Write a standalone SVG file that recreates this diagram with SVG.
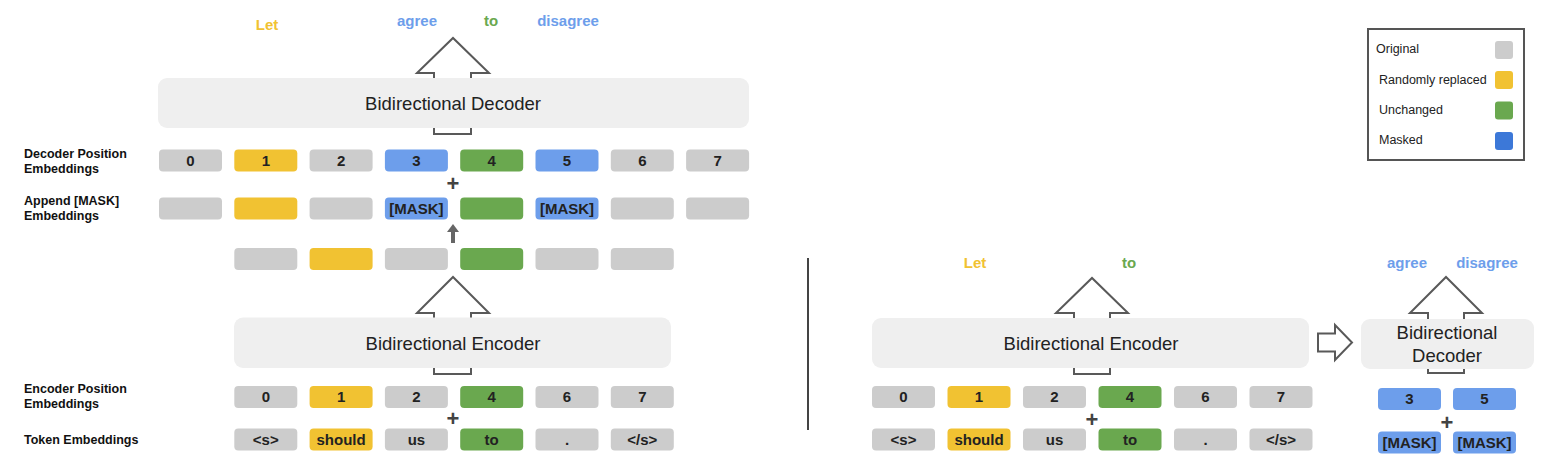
<svg xmlns="http://www.w3.org/2000/svg" width="1547" height="474" viewBox="0 0 1547 474">
<style>
  .bg { fill: #ffffff; }
  .blk { fill: #efefef; }
  .g { fill: #cccccc; }
  .y { fill: #f1c232; }
  .gr { fill: #6aa84f; }
  .b { fill: #6d9eeb; }
  .bx { font-family: "Liberation Sans", Arial, sans-serif; font-size: 15px; font-weight: bold; fill: #222222; text-anchor: middle; }
  .lbl { font-family: "Liberation Sans", Arial, sans-serif; font-size: 12.5px; font-weight: bold; fill: #111111; }
  .big { font-family: "Liberation Sans", Arial, sans-serif; font-size: 18.5px; fill: #222222; text-anchor: middle; }
  .out { font-family: "Liberation Sans", Arial, sans-serif; font-size: 15px; font-weight: bold; text-anchor: middle; }
  .leg { font-family: "Liberation Sans", Arial, sans-serif; font-size: 12.5px; fill: #222222; }
  .plus { font-family: "Liberation Sans", Arial, sans-serif; font-size: 22px; font-weight: bold; fill: #434343; text-anchor: middle; }
  .harrow { fill: #ffffff; stroke: #595959; stroke-width: 2; stroke-linejoin: miter; }
</style>
<rect class="bg" x="0" y="0" width="1547" height="474"/>

<!-- output labels -->
<g id="outputs-left">
  <text class="out" x="267" y="30" fill="#f1c232">Let</text>
  <text class="out" x="417" y="26" fill="#6d9eeb">agree</text>
  <text class="out" x="491" y="26" fill="#6aa84f">to</text>
  <text class="out" x="568" y="26" fill="#6d9eeb">disagree</text>
</g>
<g id="outputs-right">
  <text class="out" x="975" y="268" fill="#f1c232">Let</text>
  <text class="out" x="1129" y="268" fill="#6aa84f">to</text>
  <text class="out" x="1407" y="268" fill="#6d9eeb">agree</text>
  <text class="out" x="1487" y="268" fill="#6d9eeb">disagree</text>
</g>

<!-- connectors (hollow arrows drawn behind boxes) -->
<g id="connectors">
  <polygon class="harrow" points="434,134 434,73 417,73 453,38 489,73 471,73 471,134"/>
  <polygon class="harrow" points="434,374 434,313 417,313 453,277 489,313 471,313 471,374"/>
  <polygon class="harrow" points="1074,374 1074,313 1056,313 1092,278 1128,313 1110,313 1110,374"/>
  <polygon class="harrow" points="1428,373 1428,313 1410,313 1446,277 1482,313 1464,313 1464,373"/>
  <polygon class="harrow" points="1318,333.5 1335,333.5 1335,325 1352,342.5 1335,360 1335,351.5 1318,351.5"/>
  <polygon fill="#666666" points="453,224 459,232 455,232 455,243 451,243 451,232 447,232"/>
  <line x1="808" y1="258" x2="808" y2="430" stroke="#444444" stroke-width="2"/>
</g>

<!-- blocks -->
<g id="left-decoder">
  <rect class="blk" x="158" y="78" width="591" height="50" rx="9"/>
  <text class="big" x="453" y="109.5">Bidirectional Decoder</text>
</g>
<g id="left-encoder">
  <rect class="blk" x="234" y="317.5" width="437" height="50.5" rx="9"/>
  <text class="big" x="453" y="349.5">Bidirectional Encoder</text>
</g>
<g id="right-encoder">
  <rect class="blk" x="872" y="318" width="437" height="50" rx="9"/>
  <text class="big" x="1091" y="349.5">Bidirectional Encoder</text>
</g>
<g id="right-decoder">
  <rect class="blk" x="1361" y="319" width="173" height="50" rx="9"/>
  <text class="big" x="1447" y="339">Bidirectional</text>
  <text class="big" x="1447" y="362">Decoder</text>
</g>

<!-- row labels -->
<g id="row-labels">
  <text class="lbl" x="24" y="157.5">Decoder Position</text>
  <text class="lbl" x="24" y="172.5">Embeddings</text>
  <text class="lbl" x="24" y="205">Append [MASK]</text>
  <text class="lbl" x="24" y="220">Embeddings</text>
  <text class="lbl" x="24" y="392.5">Encoder Position</text>
  <text class="lbl" x="24" y="408">Embeddings</text>
  <text class="lbl" x="24" y="443.5">Token Embeddings</text>
</g>

<!-- decoder position embeddings -->
<g id="dec-pos">
  <rect class="g" x="159" y="149.5" width="63" height="22" rx="4"/><text class="bx" x="190.5" y="165.5">0</text>
  <rect class="y" x="234.3" y="149.5" width="63" height="22" rx="4"/><text class="bx" x="265.8" y="165.5">1</text>
  <rect class="g" x="309.6" y="149.5" width="63" height="22" rx="4"/><text class="bx" x="341.1" y="165.5">2</text>
  <rect class="b" x="384.9" y="149.5" width="63" height="22" rx="4"/><text class="bx" x="416.4" y="165.5">3</text>
  <rect class="gr" x="460.2" y="149.5" width="63" height="22" rx="4"/><text class="bx" x="491.7" y="165.5">4</text>
  <rect class="b" x="535.5" y="149.5" width="63" height="22" rx="4"/><text class="bx" x="567" y="165.5">5</text>
  <rect class="g" x="610.8" y="149.5" width="63" height="22" rx="4"/><text class="bx" x="642.3" y="165.5">6</text>
  <rect class="g" x="686.1" y="149.5" width="63" height="22" rx="4"/><text class="bx" x="717.6" y="165.5">7</text>
</g>
<text class="plus" x="453" y="190.5">+</text>

<!-- append mask embeddings -->
<g id="append-mask">
  <rect class="g" x="159" y="197.5" width="63" height="22" rx="4"/>
  <rect class="y" x="234.3" y="197.5" width="63" height="22" rx="4"/>
  <rect class="g" x="309.6" y="197.5" width="63" height="22" rx="4"/>
  <rect class="b" x="384.9" y="197.5" width="63" height="22" rx="4"/><text class="bx" x="416.4" y="213.5">[MASK]</text>
  <rect class="gr" x="460.2" y="197.5" width="63" height="22" rx="4"/>
  <rect class="b" x="535.5" y="197.5" width="63" height="22" rx="4"/><text class="bx" x="567" y="213.5">[MASK]</text>
  <rect class="g" x="610.8" y="197.5" width="63" height="22" rx="4"/>
  <rect class="g" x="686.1" y="197.5" width="63" height="22" rx="4"/>
</g>

<!-- encoder outputs -->
<g id="enc-out">
  <rect class="g" x="234.3" y="248" width="63" height="22" rx="4"/>
  <rect class="y" x="309.6" y="248" width="63" height="22" rx="4"/>
  <rect class="g" x="384.9" y="248" width="63" height="22" rx="4"/>
  <rect class="gr" x="460.2" y="248" width="63" height="22" rx="4"/>
  <rect class="g" x="535.5" y="248" width="63" height="22" rx="4"/>
  <rect class="g" x="610.8" y="248" width="63" height="22" rx="4"/>
</g>

<!-- left encoder position embeddings -->
<g id="enc-pos-left">
  <rect class="g" x="234.3" y="386" width="63" height="22" rx="4"/><text class="bx" x="265.8" y="402">0</text>
  <rect class="y" x="309.6" y="386" width="63" height="22" rx="4"/><text class="bx" x="341.1" y="402">1</text>
  <rect class="g" x="384.9" y="386" width="63" height="22" rx="4"/><text class="bx" x="416.4" y="402">2</text>
  <rect class="gr" x="460.2" y="386" width="63" height="22" rx="4"/><text class="bx" x="491.7" y="402">4</text>
  <rect class="g" x="535.5" y="386" width="63" height="22" rx="4"/><text class="bx" x="567" y="402">6</text>
  <rect class="g" x="610.8" y="386" width="63" height="22" rx="4"/><text class="bx" x="642.3" y="402">7</text>
</g>
<text class="plus" x="453" y="425.5">+</text>

<!-- left token embeddings -->
<g id="tok-left">
  <rect class="g" x="234.3" y="428.5" width="63" height="22" rx="4"/><text class="bx" x="265.8" y="444.5">&lt;s&gt;</text>
  <rect class="y" x="309.6" y="428.5" width="63" height="22" rx="4"/><text class="bx" x="341.1" y="444.5">should</text>
  <rect class="g" x="384.9" y="428.5" width="63" height="22" rx="4"/><text class="bx" x="416.4" y="444.5">us</text>
  <rect class="gr" x="460.2" y="428.5" width="63" height="22" rx="4"/><text class="bx" x="491.7" y="444.5">to</text>
  <rect class="g" x="535.5" y="428.5" width="63" height="22" rx="4"/><text class="bx" x="567" y="444.5">.</text>
  <rect class="g" x="610.8" y="428.5" width="63" height="22" rx="4"/><text class="bx" x="642.3" y="444.5">&lt;/s&gt;</text>
</g>

<!-- right encoder position embeddings -->
<g id="enc-pos-right">
  <rect class="g" x="872" y="386" width="63" height="22" rx="4"/><text class="bx" x="903.5" y="402">0</text>
  <rect class="y" x="947.5" y="386" width="63" height="22" rx="4"/><text class="bx" x="979" y="402">1</text>
  <rect class="g" x="1023" y="386" width="63" height="22" rx="4"/><text class="bx" x="1054.5" y="402">2</text>
  <rect class="gr" x="1098.5" y="386" width="63" height="22" rx="4"/><text class="bx" x="1130" y="402">4</text>
  <rect class="g" x="1174" y="386" width="63" height="22" rx="4"/><text class="bx" x="1205.5" y="402">6</text>
  <rect class="g" x="1249.5" y="386" width="63" height="22" rx="4"/><text class="bx" x="1281" y="402">7</text>
</g>
<text class="plus" x="1092" y="426.5">+</text>

<!-- right token embeddings -->
<g id="tok-right">
  <rect class="g" x="872" y="428.5" width="63" height="22" rx="4"/><text class="bx" x="903.5" y="444.5">&lt;s&gt;</text>
  <rect class="y" x="947.5" y="428.5" width="63" height="22" rx="4"/><text class="bx" x="979" y="444.5">should</text>
  <rect class="g" x="1023" y="428.5" width="63" height="22" rx="4"/><text class="bx" x="1054.5" y="444.5">us</text>
  <rect class="gr" x="1098.5" y="428.5" width="63" height="22" rx="4"/><text class="bx" x="1130" y="444.5">to</text>
  <rect class="g" x="1174" y="428.5" width="63" height="22" rx="4"/><text class="bx" x="1205.5" y="444.5">.</text>
  <rect class="g" x="1249.5" y="428.5" width="63" height="22" rx="4"/><text class="bx" x="1281" y="444.5">&lt;/s&gt;</text>
</g>

<!-- right decoder inputs -->
<g id="dec-in-right">
  <rect class="b" x="1378" y="388" width="63" height="22" rx="4"/><text class="bx" x="1409.5" y="404">3</text>
  <rect class="b" x="1453" y="388" width="63" height="22" rx="4"/><text class="bx" x="1484.5" y="404">5</text>
  <rect class="b" x="1378" y="431.5" width="63" height="22" rx="4"/><text class="bx" x="1409.5" y="447.5">[MASK]</text>
  <rect class="b" x="1453" y="431.5" width="63" height="22" rx="4"/><text class="bx" x="1484.5" y="447.5">[MASK]</text>
</g>
<text class="plus" x="1447" y="429.5">+</text>

<!-- legend -->
<g id="legend">
  <rect x="1368" y="29" width="156" height="131" fill="#ffffff" stroke="#555555" stroke-width="2"/>
  <text class="leg" x="1376" y="53">Original</text>
  <rect class="g" x="1495" y="41" width="18" height="18" rx="3"/>
  <text class="leg" x="1379" y="84">Randomly replaced</text>
  <rect class="y" x="1495" y="71" width="18" height="18" rx="3"/>
  <text class="leg" x="1379" y="114">Unchanged</text>
  <rect class="gr" x="1495" y="101.5" width="18" height="18" rx="3"/>
  <text class="leg" x="1379" y="144">Masked</text>
  <rect x="1495" y="132" width="18" height="18" rx="3" fill="#3c78d8"/>
</g>
</svg>
